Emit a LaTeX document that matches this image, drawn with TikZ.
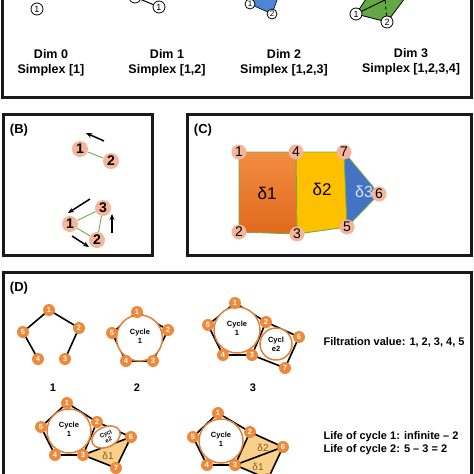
\documentclass[tikz,border=0pt]{standalone}
\usepackage{fontspec}
\setmainfont{Liberation Sans}
\usetikzlibrary{arrows.meta}
\definecolor{peach}{HTML}{F4B59A}
\definecolor{oTop}{HTML}{F28D42}
\definecolor{oBot}{HTML}{E0691C}
\definecolor{cyel}{HTML}{FFC000}
\definecolor{cblu}{HTML}{4472C4}
\definecolor{cgrn}{HTML}{70AD47}
\definecolor{dora}{HTML}{F0883A}
\definecolor{dcir}{HTML}{E0803A}
\definecolor{trif}{HTML}{F9D08A}
\definecolor{dtxt}{HTML}{806020}
\definecolor{agrn}{HTML}{63A844}
\definecolor{ablu}{HTML}{4B87D4}
\definecolor{dlt}{HTML}{DCE7F5}
\pgfdeclarelayer{bg}
\pgfsetlayers{bg,main}
\tikzset{
  panel/.style={line width=3pt, draw=black!90},
  anode/.style={circle, draw=black, fill=white, line width=0.8pt, minimum size=12pt, inner sep=0pt, font=\fontsize{9}{9}\selectfont},
  anodes/.style={anode, minimum size=10pt, font=\fontsize{8}{8}\selectfont},
  bnode/.style={circle, fill=peach, minimum size=16pt, inner sep=0pt, font=\fontsize{14}{14}\selectfont\bfseries},
  cnode/.style={circle, fill=peach, minimum size=15pt, inner sep=0pt, font=\fontsize{14}{14}\selectfont},
  dnode/.style={circle, fill=dora, text=white, minimum size=12pt, inner sep=0pt, font=\fontsize{7.5}{7.5}\selectfont\bfseries},
  dedge/.style={line width=1.6pt, black},
  dcirc/.style={draw=dcir, line width=1.5pt, fill=white},
  tri/.style={fill=trif},
  dimtxt/.style={font=\fontsize{12.5}{12.5}\selectfont\bfseries, align=center},
  plab/.style={font=\fontsize{13}{13}\selectfont\bfseries},
  numlab/.style={font=\fontsize{11}{11}\selectfont\bfseries},
  bigtxt/.style={font=\fontsize{11}{13}\selectfont\bfseries, anchor=west},
  cyctxt/.style={font=\fontsize{7.5}{9}\selectfont\bfseries, align=center},
  cedge/.style={draw=cgrn, line width=0.9pt},
  barrow/.style={-{Stealth[length=6pt,width=5pt]}, line width=1.5pt, black},
  deltatxt/.style={font=\fontsize{10}{10}\selectfont, text=dtxt}
}
\begin{document}
\begin{tikzpicture}[x=1pt,y=-1pt]
\useasboundingbox (0,0) rectangle (474,474);
\begin{pgfonlayer}{bg}
\fill[white] (0,0) rectangle (474,474);
\end{pgfonlayer}

% ---------- Panel A ----------
\draw[panel] (2,-10) rectangle (471,97);
\node[anode] (a0) at (37,9) {1};
% Dim 1
\node[anode] (a1b) at (135,-3) {2};
\node[anode] (a1a) at (159,7) {1};
\begin{pgfonlayer}{bg}
\draw[line width=1pt] (a1b) -- (a1a);
\end{pgfonlayer}
% Dim 2
\node[anodes] (a2a) at (250,4) {1};
\node[anodes] (a2b) at (272,14) {2};
\begin{pgfonlayer}{bg}
\fill[ablu, draw=black, line width=0.6pt] (a2a.center) -- (a2b.center) -- (277,0) -- (272,-8) -- (252,-8) -- cycle;
\end{pgfonlayer}
% Dim 3
\node[anode] (a3a) at (356,14) {1};
\node[anode] (a3b) at (387,22) {2};
\coordinate (a3c) at (391,-3);
\coordinate (a3d) at (385,-3);
\begin{pgfonlayer}{bg}
\fill[agrn, draw=black, line width=0.8pt] (a3a.center) -- (a3b.center) -- (405,-2) -- (400,-10) -- (372,-10) -- cycle;
\draw[line width=0.9pt] (a3a) -- (a3c);
\draw[line width=0.9pt, dashed] (a3b) -- (a3d);
\end{pgfonlayer}
\node[dimtxt] (t0) at (51,63) {Dim 0\\[2pt]Simplex [1]};
\node[dimtxt] (t1) at (167,63) {Dim 1\\[2pt]Simplex [1,2]};
\node[dimtxt] (t2) at (284,63) {Dim 2\\[2pt]Simplex [1,2,3]};
\node[dimtxt] (t3) at (411,62) {Dim 3\\[2pt]Simplex [1,2,3,4]};

% ---------- Panel B ----------
\draw[panel] (3,114) rectangle (152,255);
\node[plab] (lb) at (19,130) {(B)};
\node[bnode] (b1) at (80,149) {1};
\node[bnode] (b2) at (111,161) {2};
\begin{pgfonlayer}{bg}
\draw[cedge] (b1) -- (b2);
\end{pgfonlayer}
\coordinate (ba1) at (104,141);
\coordinate (ba2) at (86,133);
\draw[barrow] (ba1) -- (ba2);
\node[bnode] (b3) at (103,208) {3};
\node[bnode] (b4) at (70,224) {1};
\node[bnode] (b5) at (97,240) {2};
\begin{pgfonlayer}{bg}
\draw[cedge] (b3) -- (b4) -- (b5) -- (b3);
\end{pgfonlayer}
\coordinate (bb1) at (90,199);
\coordinate (bb2) at (68,213);
\coordinate (bc1) at (112,233);
\coordinate (bc2) at (112,214);
\coordinate (bd1) at (72,236);
\coordinate (bd2) at (89,247);
\draw[barrow] (bb1) -- (bb2);
\draw[barrow] (bc1) -- (bc2);
\draw[barrow] (bd1) -- (bd2);

% ---------- Panel C ----------
\draw[panel] (187,114) rectangle (471,255);
\node[plab] (lc) at (203,130) {(C)};
\node[cnode] (c1) at (239,152) {1};
\node[cnode] (c4) at (296,152) {4};
\node[cnode] (c7) at (344,152) {7};
\node[cnode] (c2) at (239,232) {2};
\node[cnode] (c3) at (297,234) {3};
\node[cnode] (c5) at (347,227) {5};
\begin{pgfonlayer}{bg}
\shade[top color=oTop, bottom color=oBot] (c1.center) -- (c4.center) -- (c3.center) -- (c2.center) -- cycle;
\fill[cyel] (c4.center) -- (c7.center) -- (c5.center) -- (c3.center) -- cycle;
\fill[cblu] (c7.center) -- (379,194) -- (c5.center) -- cycle;
\draw[cedge] (c1.center) -- (c4.center) -- (c7.center) -- (379,194) -- (c5.center) -- (c3.center) -- (c2.center) -- cycle;
\draw[cedge] (c4.center) -- (c3.center);
\draw[cedge] (c7.center) -- (c5.center);
\end{pgfonlayer}
\node[font=\fontsize{17}{17}\selectfont] (d1) at (267,193) {δ1};
\node[font=\fontsize{17}{17}\selectfont] (d2) at (322,189) {δ2};
\node[font=\fontsize{16}{16}\selectfont, text=dlt] (d3) at (364,192) {δ3};
\node[cnode] (c6) at (379,194) {6};

% ---------- Panel D ----------
\draw[panel] (3,272) rectangle (471,490);
\node[plab] (ld) at (19,288) {(D)};

% Pentagon 1
\node[dnode] (p11) at (49,310) {1};
\node[dnode] (p12) at (79,328) {2};
\node[dnode] (p15) at (23,332) {5};
\node[dnode] (p14) at (38,359) {4};
\node[dnode] (p13) at (65,359) {3};
\begin{pgfonlayer}{bg}
\draw[dedge] (p15.center) -- (p11.center) -- (p12.center) -- (p13.center);
\draw[dedge] (p15.center) -- (p14.center);
\end{pgfonlayer}
\node[numlab] (n1) at (53,388) {1};

% Pentagon 2
\node[dnode] (p21) at (137,312) {1};
\node[dnode] (p22) at (168,330) {2};
\node[dnode] (p25) at (112,333) {5};
\node[dnode] (p24) at (126,361) {4};
\node[dnode] (p23) at (153,361) {3};
\begin{pgfonlayer}{bg}
\draw[dedge] (p21.center) -- (p22.center) -- (p23.center) -- (p24.center) -- (p25.center) -- cycle;
\draw[dcirc] (139.5,338) circle[radius=23];
\end{pgfonlayer}
\node[cyctxt] (cy2) at (140,336) {Cycle\\1};
\node[numlab] (n2) at (137,388) {2};

% Pentagon 3
\node[dnode] (p31) at (235,303) {1};
\node[dnode] (p35) at (208,325) {5};
\node[dnode] (p34) at (223,355) {4};
\node[dnode] (p33) at (252,355) {3};
\node[dnode] (p32) at (266,322) {2};
\node[dnode] (p36) at (299,337) {6};
\node[dnode] (p37) at (285,368) {7};
\begin{pgfonlayer}{bg}
\draw[dedge] (p31.center) -- (p32.center) -- (p33.center) -- (p34.center) -- (p35.center) -- cycle;
\draw[dedge] (p32.center) -- (p36.center) -- (p37.center) -- (p33.center);
\draw[dcirc] (237,330) circle[radius=23];
\draw[dcirc] (276,344) circle[radius=16];
\end{pgfonlayer}
\node[cyctxt] (cy31) at (237,328) {Cycle\\1};
\node[cyctxt] (cy32) at (276,344) {Cycl\\e2};
\node[numlab] (n3) at (253,388) {3};

\node[bigtxt] (filt) at (320,342) {Filtration value: 1, 2, 3, 4, 5};

% Pentagon 4
\node[dnode] (p41) at (67,403) {1};
\node[dnode] (p45) at (41,427) {5};
\node[dnode] (p44) at (55,455) {4};
\node[dnode] (p43) at (83,455) {3};
\node[dnode] (p42) at (97,422) {2};
\node[dnode] (p46) at (131,437) {6};
\node[dnode] (p47) at (116,468) {7};
\begin{pgfonlayer}{bg}
\fill[tri] (p43.center) -- (p46.center) -- (p47.center) -- cycle;
\draw[dedge] (p41.center) -- (p42.center) -- (p43.center) -- (p44.center) -- (p45.center) -- cycle;
\draw[dedge] (p42.center) -- (p46.center) -- (p47.center) -- (p43.center) -- (p46.center);
\draw[dcirc] (69,431) circle[radius=22];
\draw[dcirc, rotate around={25:(106,437)}] (106,437) ellipse[x radius=15, y radius=10];
\end{pgfonlayer}
\node[cyctxt] (cy41) at (69,429) {Cycle\\1};
\node[cyctxt, rotate=25, inner sep=0pt, font=\fontsize{6}{6.5}\selectfont\bfseries] (cy42) at (107,437) {Cycl\\e2};
\node[deltatxt] (dd41) at (108,456) {δ1};

% Pentagon 5
\node[dnode] (p51) at (218,413) {1};
\node[dnode] (p55) at (193,437) {5};
\node[dnode] (p54) at (207,465) {4};
\node[dnode] (p53) at (235,465) {3};
\node[dnode] (p52) at (250,432) {2};
\node[dnode] (p56) at (283,447) {6};
\node[dnode] (p57) at (268,479) {7};
\begin{pgfonlayer}{bg}
\fill[tri] (p52.center) -- (p56.center) -- (p53.center) -- cycle;
\fill[tri] (p53.center) -- (p56.center) -- (p57.center) -- cycle;
\draw[dedge] (p51.center) -- (p52.center) -- (p53.center) -- (p54.center) -- (p55.center) -- cycle;
\draw[dedge] (p52.center) -- (p56.center) -- (p57.center) -- (p53.center) -- (p56.center);
\draw[dcirc] (221,441) circle[radius=22];
\end{pgfonlayer}
\node[cyctxt] (cy51) at (221,439) {Cycle\\1};
\node[deltatxt] (dd52) at (263,448) {δ2};
\node[deltatxt] (dd51) at (258,467) {δ1};

\node[bigtxt] (life1) at (320,437) {Life of cycle 1: infinite – 2};
\node[bigtxt] (life2) at (320,450) {Life of cycle 2: 5 – 3 = 2};
\end{tikzpicture}
\end{document}
